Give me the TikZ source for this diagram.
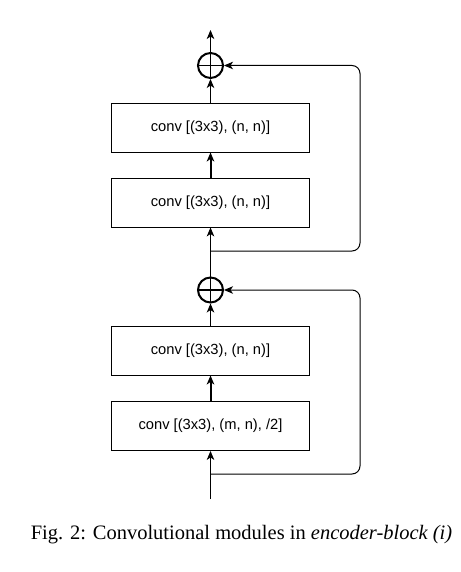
\documentclass[tikz,border=0pt]{standalone}
\usepackage{fontspec}
\setmainfont{Liberation Serif}
\newfontfamily\boxfont{Liberation Sans}
\usetikzlibrary{arrows.meta}
\begin{document}
\begin{tikzpicture}[x=1pt,y=-1pt,
  convbox/.style={draw, line width=0.9pt, minimum width=198pt, minimum height=49pt, inner sep=0pt, font=\boxfont\fontsize{14.7}{16}\selectfont},
  addnode/.style={draw, circle, line width=2pt, minimum size=25pt, inner sep=0pt,
    path picture={\draw[line width=1.6pt] (path picture bounding box.north) -- (path picture bounding box.south) (path picture bounding box.west) -- (path picture bounding box.east);}},
  flow/.style={line width=1pt, -{Stealth[length=9pt,width=7.5pt,inset=2.5pt]}},
  thickflow/.style={line width=2pt, -{Stealth[length=9pt,width=7.5pt,inset=2.5pt]}},
  skip/.style={line width=1pt, rounded corners=8pt, -{Stealth[length=9pt,width=7.5pt,inset=2.5pt]}}
]
\useasboundingbox (0,0) rectangle (460,572);
\node[addnode] (p1) at (210.5,65.5) {};
\node[convbox] (b1) at (210.5,127.5) {conv [(3x3), (n, n)]};
\node[convbox] (b2) at (210.5,202.5) {conv [(3x3), (n, n)]};
\node[addnode] (p2) at (210.5,290) {};
\node[convbox] (b3) at (210.5,350.5) {conv [(3x3), (n, n)]};
\node[convbox] (b4) at (210.5,426) {conv [(3x3), (m, n), /2]};
\coordinate (top) at (210.5,30);
\coordinate (bot) at (210.5,499);
\coordinate (br1) at (210.5,251);
\coordinate (br2) at (210.5,474);
\coordinate (r1) at (360,251);
\coordinate (r2) at (360,474);

\draw[flow] (bot) -- (b4.south);
\draw[thickflow] (b4.north) -- (b3.south);
\draw[flow] (b3.north) -- (p2.south);
\draw[skip] (br2) -- (r2) |- (p2.east);
\draw[flow] (p2.north) -- (b2.south);
\draw[thickflow] (b2.north) -- (b1.south);
\draw[flow] (b1.north) -- (p1.south);
\draw[skip] (br1) -- (r1) |- (p1.east);
\draw[flow] (p1.north) -- (top);

\node[anchor=base, font=\fontsize{20.5}{24}\selectfont, inner sep=0pt] (cap) at (241.5,539) {Fig. 2: Convolutional modules in \textit{encoder-block (i)}};
\end{tikzpicture}
\end{document}
